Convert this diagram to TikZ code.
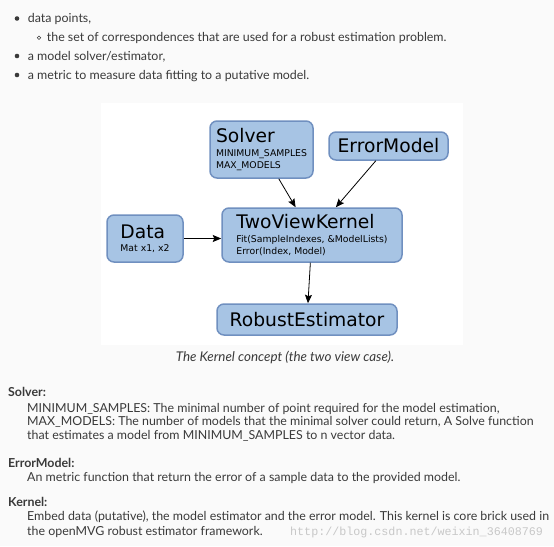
\documentclass[tikz,border=0pt]{standalone}
\usepackage{fontspec}
\setmainfont{Lato}
\newfontfamily\dejavu{DejaVu Sans}
\newfontfamily\wmfont{Liberation Mono}
\usetikzlibrary{arrows.meta}

\definecolor{pagebg}{RGB}{250,250,250}
\definecolor{bodytext}{RGB}{58,58,58}
\definecolor{boxfill}{RGB}{167,196,228}
\definecolor{boxedge}{RGB}{112,144,192}
\definecolor{wmgray}{RGB}{200,200,200}

\newcommand{\bigname}[1]{{\fontsize{18.7}{18.7}\selectfont #1}}

\begin{document}
\begin{tikzpicture}[x=1pt, y=-1pt,
    box/.style={draw=boxedge, line width=1.5pt, fill=boxfill, rounded corners=7pt,
      inner sep=0pt, align=left, font=\dejavu\fontsize{9.3}{12}\selectfont},
    txt/.style={anchor=base west, inner sep=0pt, text=bodytext,
      font=\fontsize{12.4}{14}\selectfont},
    head/.style={txt, font=\fontsize{12.4}{14}\selectfont\bfseries},
    flow/.style={-{Stealth[length=8.5pt, width=7pt, inset=1.5pt]}, line width=0.8pt}]

    % Page and panel
    \fill[pagebg] (0,0) rectangle (554,546);
    \fill[white] (101,103) rectangle (463,345);

    % Bullet list
    \fill[bodytext] (17,18.5) circle (2.3);
    \draw[bodytext, line width=0.5pt] (39,37.7) circle (1.8);
    \fill[bodytext] (17,56) circle (2.3);
    \fill[bodytext] (17,75) circle (2.3);
    \node[txt] (l1) at (27.7,22.5) {data points,};
    \node[txt] (l2) at (46.7,41.5) {the set of correspondences that are used for a robust estimation problem.};
    \node[txt] (l3) at (27.7,60) {a model solver/estimator,};
    \node[txt] (l4) at (27.7,79) {a metric to measure data fitting to a putative model.};

    % Nodes
    \node[box, minimum width=103, minimum height=57] (solver) at (261.5,149.5)
      {\bigname{Solver}\\[2.6pt] MINIMUM\_SAMPLES\\ MAX\_MODELS};
    \node[box, minimum width=119, minimum height=28] (errmodel) at (388.5,146)
      {\bigname{ErrorModel}};
    \node[box, minimum width=76, minimum height=47] (data) at (145,238.5)
      {\bigname{Data}\\[0.6pt] Mat x1, x2};
    \node[box, minimum width=180, minimum height=54] (kernel) at (312,235)
      {\bigname{TwoViewKernel}\\[1.7pt] Fit(SampleIndexes, \&ModelLists)\\ Error(Index, Model)};
    \node[box, minimum width=180, minimum height=31] (robust) at (307,319.5)
      {\bigname{RobustEstimator}};

    % Arrows
    \draw[flow] (solver) -- (kernel);
    \draw[flow] (errmodel) -- (kernel);
    \draw[flow] (data) -- (data -| kernel.west);
    \draw[flow] (kernel) -- (robust);

    % Caption
    \node[txt, anchor=base, font=\fontsize{13.4}{15}\selectfont\itshape] (caption) at (285,361)
      {The Kernel concept (the two view case).};

    % Definitions
    \node[head] (hsolver) at (8,396) {Solver:};
    \node[txt] (s1) at (27,412.3) {MINIMUM\_SAMPLES: The minimal number of point required for the model estimation,};
    \node[txt] (s2) at (27,425.5) {MAX\_MODELS: The number of models that the minimal solver could return, A Solve function};
    \node[txt] (s3) at (27,439.5) {that estimates a model from MINIMUM\_SAMPLES to n vector data.};
    \node[head] (herr) at (8,467) {ErrorModel:};
    \node[txt] (e1) at (27,481) {An metric function that return the error of a sample data to the provided model.};
    \node[head] (hkernel) at (8,506) {Kernel:};
    \node[txt] (k1) at (27,520) {Embed data (putative), the model estimator and the error model. This kernel is core brick used in};
    \node[txt] (k2) at (27,535.7) {the openMVG robust estimator framework.};
    \node[txt, text=wmgray, font=\wmfont\fontsize{11.7}{12}\selectfont] (mark) at (290,535.5)
      {http://blog.csdn.net/weixin\_36408769};
\end{tikzpicture}
\end{document}
